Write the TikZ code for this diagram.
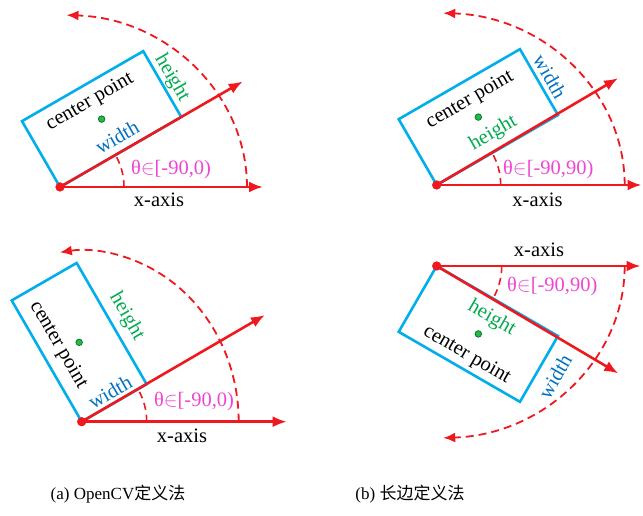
\documentclass[tikz,border=0pt]{standalone}
\usepackage{fontspec}
\setmainfont{Liberation Serif}
\newfontfamily\cjk{Noto Sans CJK SC}
\usetikzlibrary{arrows.meta,calc}
\definecolor{axisred}{RGB}{238,24,30}
\definecolor{boxcyan}{RGB}{0,174,236}
\definecolor{widthblue}{RGB}{0,112,192}
\definecolor{heightgreen}{RGB}{0,170,80}
\definecolor{thetapink}{RGB}{238,70,210}
\begin{document}
\begin{tikzpicture}[x=1pt,y=1pt,
  redarrow/.style={axisred,line width=2.6pt,-{Latex[length=14pt,width=11pt]}},
  dasharc/.style={axisred,line width=1.8pt,dash pattern=on 8pt off 5pt,-{Latex[length=12pt,width=10pt]}},
  anglearc/.style={axisred,line width=1.6pt,dash pattern=on 7pt off 5pt},
  rectbox/.style={boxcyan,line width=2.6pt,line join=miter},
  reddot/.style={circle,fill=axisred,inner sep=0pt,minimum size=9pt},
  cdot/.style={circle,fill=heightgreen!80!lime,draw=heightgreen!70!black,line width=0.8pt,inner sep=0pt,minimum size=6.5pt},
  lbl/.style={font=\fontsize{20.5}{24}\selectfont,inner sep=0pt},
  captext/.style={font=\fontsize{17}{20}\selectfont,inner sep=0pt}]
\useasboundingbox (0,0) rectangle (643,515);

% (a) top
\node[reddot] (o1) at (60,328) {};
\coordinate (x1) at (263,328);
\coordinate (t1) at ($(o1.center)+(30:211)$);
\draw[rectbox] (o1.center) -- ++(30:140) -- ++(120:76) -- ++(210:140) -- cycle;
\draw[dasharc] ($(o1.center)+(187,0)$) arc[start angle=0,end angle=88,x radius=187,y radius=172];
\draw[anglearc] ($(o1.center)+(64,0)$) arc[start angle=0,end angle=30,radius=64];
\draw[redarrow] (o1.center) -- (x1);
\draw[redarrow] (o1.center) -- (t1);
\node[reddot] at (o1) {};
\node[cdot] (c1) at ($(o1.center)+(30:70)+(120:38)$) {};
\node[lbl,rotate=30] (p1) at (90,413) {center point};
\node[lbl,rotate=30,widthblue] (w1) at (117,378) {width};
\node[lbl,rotate=-60,heightgreen] (h1) at (172,437) {height};
\node[lbl,thetapink] (a1) at (171,345) {θ$\in$[-90,0)};
\node[lbl] (l1) at (159,315) {x-axis};

% (b) top
\node[reddot] (o2) at (436.7,330) {};
\coordinate (x2) at (641.5,330);
\coordinate (t2) at ($(o2.center)+(30.5:210.5)$);
\draw[rectbox] (o2.center) -- ++(30:140) -- ++(120:76) -- ++(210:140) -- cycle;
\draw[dasharc] ($(o2.center)+(188,0)$) arc[start angle=0,end angle=88,x radius=188,y radius=172];
\draw[anglearc] ($(o2.center)+(64,0)$) arc[start angle=0,end angle=30,radius=64];
\draw[redarrow] (o2.center) -- (x2);
\draw[redarrow] (o2.center) -- (t2);
\node[reddot] at (o2) {};
\node[cdot] (c2) at ($(o2.center)+(30:70)+(120:38)$) {};
\node[lbl,rotate=30] (p2) at (470,415) {center point};
\node[lbl,rotate=30,heightgreen] (h2) at (493.3,381.7) {height};
\node[lbl,rotate=-60,widthblue] (w2) at (550,438.3) {width};
\node[lbl,thetapink] (a2) at (548.3,345) {θ$\in$[-90,90)};
\node[lbl] (l2) at (537.5,315) {x-axis};

% (a) bottom
\node[reddot] (o3) at (81.7,93.3) {};
\coordinate (x3) at (286.7,93.3);
\coordinate (t3) at ($(o3.center)+(30.2:212)$);
\draw[rectbox] (o3.center) -- ++(30:75) -- ++(120:140) -- ++(210:75) -- cycle;
\draw[dasharc] ($(o3.center)+(157,0)$) arc[start angle=0,end angle=98,x radius=157,y radius=171];
\draw[anglearc] ($(o3.center)+(65,0)$) arc[start angle=0,end angle=30,radius=65];
\draw[redarrow] (o3.center) -- (x3);
\draw[redarrow] (o3.center) -- (t3);
\node[reddot] at (o3) {};
\node[cdot] (c3) at ($(o3.center)+(30:37.5)+(120:70)$) {};
\node[lbl,rotate=-60] (p3) at (58.3,170) {center point};
\node[lbl,rotate=30,widthblue] (w3) at (110,123.3) {width};
\node[lbl,rotate=-60,heightgreen] (h3) at (126.7,198.3) {height};
\node[lbl,thetapink] (a3) at (194,113.3) {θ$\in$[-90,0)};
\node[lbl] (l3) at (182,79) {x-axis};

% (b) bottom
\node[reddot] (o4) at (436.7,249) {};
\coordinate (x4) at (640.5,249);
\coordinate (t4) at ($(o4.center)+(-30.6:211)$);
\draw[rectbox] (o4.center) -- ++(-30:140) -- ++(-120:76) -- ++(150:140) -- cycle;
\draw[dasharc] ($(o4.center)+(188,0)$) arc[start angle=0,end angle=-88,x radius=188,y radius=172];
\draw[anglearc] ($(o4.center)+(65,0)$) arc[start angle=0,end angle=-30,radius=65];
\draw[redarrow] (o4.center) -- (x4);
\draw[redarrow] (o4.center) -- (t4);
\node[reddot] at (o4) {};
\node[cdot] (c4) at ($(o4.center)+(-30:70)+(-120:38)$) {};
\node[lbl,rotate=-30] (p4) at (466.7,160) {center point};
\node[lbl,rotate=-30,heightgreen] (h4) at (491.7,196.7) {height};
\node[lbl,rotate=60,widthblue] (w4) at (555,138.3) {width};
\node[lbl,thetapink] (a4) at (552.3,228.3) {θ$\in$[-90,90)};
\node[lbl] (l4) at (539,265) {x-axis};

% captions
\node[captext] (capa) at (118,21) {(a) OpenCV{\cjk 定义法}};
\node[captext] (capb) at (410,21) {(b) {\cjk 长边定义法}};
\end{tikzpicture}
\end{document}
